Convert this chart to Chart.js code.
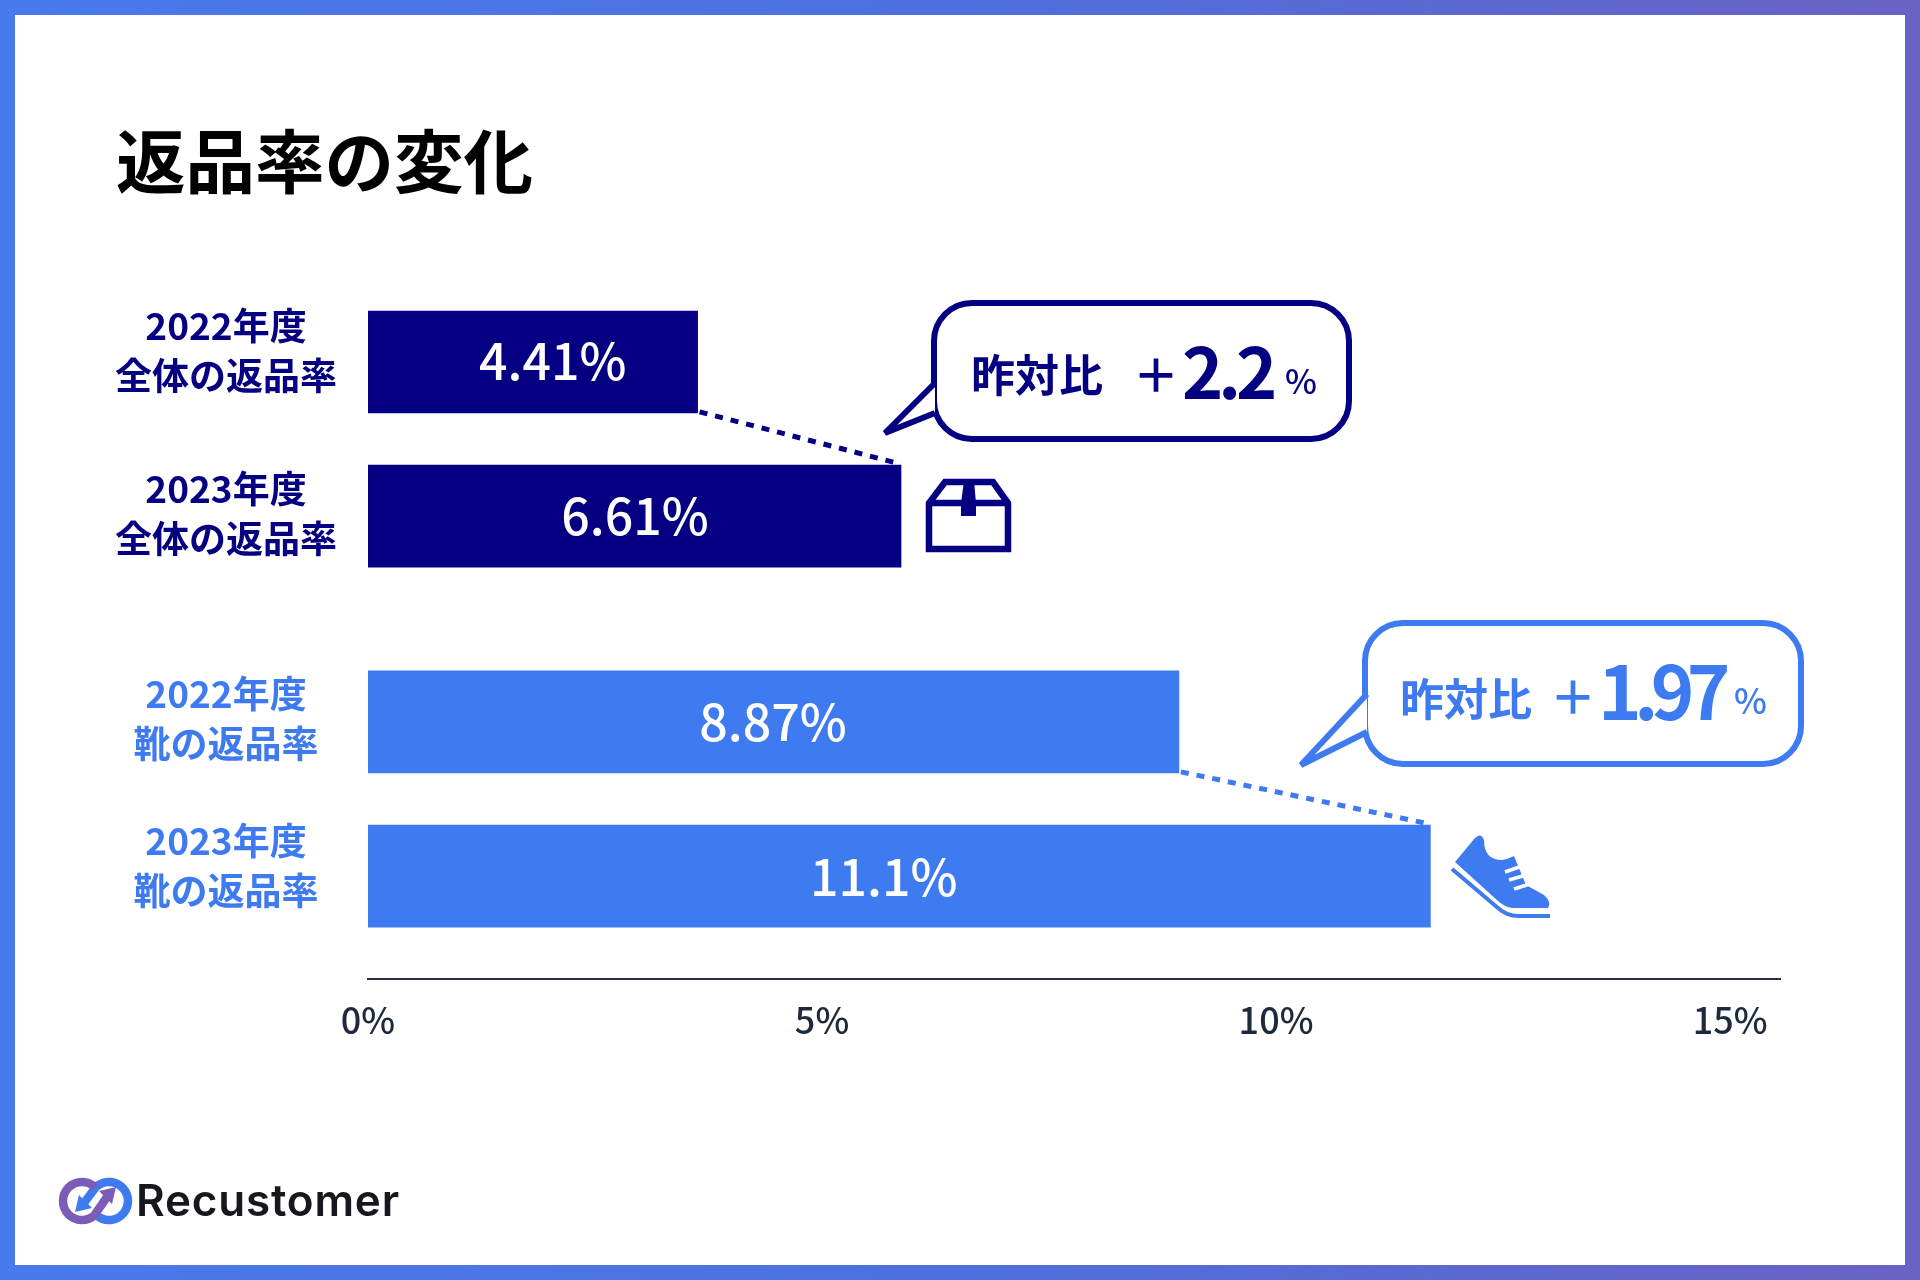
<!DOCTYPE html>
<html lang="ja">
<head>
<meta charset="utf-8">
<title>返品率の変化</title>
<script src="https://cdn.jsdelivr.net/npm/chart.js@4"></script>
<style>
html,body{margin:0;padding:0;background:#fff}
#frame{position:absolute;left:0;top:0;width:1920px;height:1280px;background:linear-gradient(90deg,#487aec 0%,#4e70de 50%,#6a63c4 100%)}
#inner{position:absolute;left:15px;top:15px;width:1890px;height:1250px;background:#fff}
canvas{position:absolute;left:0;top:0}
</style>
</head>
<body>
<div id="frame"><div id="inner"></div></div>
<canvas id="c" width="1920" height="1280"></canvas>
<script>
const titleText = '返品率の変化';
const NAVY = '#050082';
const BLUE = '#3f7bf0';
const FONT = '"Noto Sans CJK JP","Noto Sans JP",sans-serif';

// Rows of the category axis; empty rows give the gaps between bars.
const rowLabels = ['', ['2022年度','全体の返品率'], '', '', ['2023年度','全体の返品率'], '', '', '',
                   ['2022年度','靴の返品率'], '', '', ['2023年度','靴の返品率'], '', ''];
// Bar lengths as read against the x axis of the picture.
const barLengths = [null, 3.63, null, null, 5.87, null, null, null, 8.93, null, null, 11.7, null, null];
const rowColors = [NAVY, NAVY, NAVY, NAVY, NAVY, NAVY, NAVY, BLUE, BLUE, BLUE, BLUE, BLUE, BLUE, BLUE];
// Printed labels and their centre on the x axis.
const printedValues = [null, '4.41%', null, null, '6.61%', null, null, null, '8.87%', null, null, '11.1%', null, null];
const printedCentres = [null, 2.035, null, null, 2.94, null, null, null, 4.46, null, null, 5.68, null, null];
// Vertical shift of each row label relative to its bar.
const labelShift = [0, -11, 0, 0, -2.5, 0, 0, 0, -3, 0, 0, -10, 0, 0];
const xTickValues = [0, 5, 10, 15];
const callouts = [
  {color: NAVY, from: 1, to: 4, box: [934, 303, 415, 136], tail: [[935,383],[885,433],[935,413]],
   parts: [{t:'昨対比',x:971,y:375,s:44,w:700,ls:0},{t:'＋',x:1133,y:375,s:46,w:700,ls:0},
           {t:'2.2',x:1182,y:372,s:70,w:700,ls:-5},{t:'%',x:1285,y:381,s:34,w:500,ls:0}]},
  {color: BLUE, from: 8, to: 11, box: [1365, 623, 436, 141], tail: [[1367,694],[1301,765],[1367,732]],
   parts: [{t:'昨対比',x:1400,y:699,s:44,w:700,ls:0},{t:'＋',x:1550,y:697,s:46,w:700,ls:0},
           {t:'1.97',x:1598,y:692,s:74,w:700,ls:-7.5},{t:'%',x:1734,y:701,s:35,w:500,ls:0}]}
];

function drawBox(ctx){
  ctx.save();
  ctx.strokeStyle = NAVY; ctx.fillStyle = NAVY; ctx.lineWidth = 6.5; ctx.lineJoin = 'miter';
  ctx.beginPath();
  ctx.moveTo(945,482); ctx.lineTo(993,482); ctx.lineTo(1008,503); ctx.lineTo(1008,549);
  ctx.lineTo(929,549); ctx.lineTo(929,503); ctx.closePath();
  ctx.moveTo(929,503); ctx.lineTo(1008,503);
  ctx.stroke();
  ctx.beginPath();
  ctx.moveTo(964,481); ctx.lineTo(974,481); ctx.lineTo(976,503); ctx.lineTo(976,516);
  ctx.lineTo(961,516); ctx.lineTo(961,503); ctx.closePath();
  ctx.fill();
  ctx.restore();
}
function drawShoe(ctx){
  ctx.save();
  ctx.fillStyle = BLUE; ctx.strokeStyle = BLUE;
  ctx.beginPath();
  ctx.moveTo(1455,862);
  ctx.lineTo(1475,838);
  ctx.quadraticCurveTo(1481,832,1484,840);
  ctx.quadraticCurveTo(1484,860,1502,860);
  ctx.quadraticCurveTo(1508,859,1514,856);
  ctx.lineTo(1526,885);
  ctx.lineTo(1544,895);
  ctx.quadraticCurveTo(1552,902,1548,908);
  ctx.lineTo(1512,908);
  ctx.quadraticCurveTo(1505,907,1498,901);
  ctx.closePath();
  ctx.fill();
  ctx.lineWidth = 4; ctx.lineCap = 'butt';
  ctx.beginPath();
  ctx.moveTo(1452,869); ctx.lineTo(1498,908);
  ctx.quadraticCurveTo(1507,916,1518,916); ctx.lineTo(1550,916);
  ctx.stroke();
  ctx.strokeStyle = '#fff'; ctx.lineWidth = 3.5;
  [[1505,872,1522,866],[1509,880,1526,875],[1514,889,1530,884]].forEach(l=>{
    ctx.beginPath(); ctx.moveTo(l[0],l[1]); ctx.lineTo(l[2],l[3]); ctx.stroke();
  });
  ctx.restore();
}
function drawLogo(ctx){
  ctx.save();
  const purple = '#7b5cb8', blue = '#3f7bf0';
  ctx.lineWidth = 8.5; ctx.lineCap = 'butt';
  // blue loop
  ctx.strokeStyle = blue;
  ctx.beginPath();
  ctx.arc(109,1201,19,Math.PI*0.72,Math.PI*1.25,true);
  ctx.lineTo(84,1203);
  ctx.stroke();
  ctx.fillStyle = blue;
  ctx.beginPath(); ctx.moveTo(75,1212); ctx.lineTo(79,1195); ctx.lineTo(92,1208); ctx.closePath(); ctx.fill();
  // purple loop
  ctx.strokeStyle = purple;
  ctx.beginPath();
  ctx.arc(82,1201,19,-Math.PI*0.25,Math.PI*0.28,true);
  ctx.lineTo(107,1197);
  ctx.stroke();
  ctx.fillStyle = purple;
  ctx.beginPath(); ctx.moveTo(116,1187); ctx.lineTo(112,1204); ctx.lineTo(99,1191); ctx.closePath(); ctx.fill();
  ctx.fillStyle = '#16181d';
  ctx.font = '600 44px Inter, sans-serif';
  ctx.letterSpacing = '0.8px';
  ctx.textAlign = 'left'; ctx.textBaseline = 'alphabetic';
  ctx.fillText('Recustomer',136,1216);
  ctx.restore();
}

const overlay = {
  id: 'overlay',
  beforeDraw(chart){
    // nudge the row labels to where the picture has them
    const y = chart.scales.y, items = y.getLabelItems();
    let n = 0;
    y.ticks.forEach((t,i)=>{
      const item = items[n++];
      if (item && labelShift[i]) item.options.translation = [item.options.translation[0], item.options.translation[1] + labelShift[i]];
    });
  },
  afterDatasetsDraw(chart){
    const ctx = chart.ctx, bars = chart.getDatasetMeta(0).data, x = chart.scales.x;
    // printed labels on the bars
    ctx.save();
    ctx.fillStyle = '#fff';
    ctx.font = '500 50px ' + FONT;
    ctx.textAlign = 'center'; ctx.textBaseline = 'middle';
    printedValues.forEach((t,i)=>{
      if (t) ctx.fillText(t, x.getPixelForValue(printedCentres[i]), bars[i].y + (i > 4 ? 0.5 : -0.5));
    });
    ctx.restore();
    // dotted connectors and callouts
    callouts.forEach(c=>{
      const a = bars[c.from], b = bars[c.to];
      ctx.save();
      ctx.strokeStyle = c.color; ctx.lineWidth = 5; ctx.setLineDash([8,8]);
      ctx.beginPath();
      ctx.moveTo(a.x + 2, a.y + a.height/2 - 1);
      ctx.lineTo(b.x, b.y - b.height/2 - 1);
      ctx.stroke();
      ctx.setLineDash([]);
      const [bx,by,bw,bh] = c.box;
      ctx.lineWidth = 6; ctx.lineJoin = 'bevel'; ctx.fillStyle = '#fff';
      ctx.beginPath();
      ctx.roundRect(bx,by,bw,bh,38);
      ctx.fill(); ctx.stroke();
      ctx.beginPath();
      ctx.moveTo(c.tail[0][0],c.tail[0][1]);
      ctx.lineTo(c.tail[1][0],c.tail[1][1]);
      ctx.lineTo(c.tail[2][0],c.tail[2][1]);
      ctx.closePath(); ctx.fill();
      ctx.beginPath();
      ctx.moveTo(c.tail[0][0],c.tail[0][1]);
      ctx.lineTo(c.tail[1][0],c.tail[1][1]);
      ctx.lineTo(c.tail[2][0],c.tail[2][1]);
      ctx.stroke();
      ctx.fillStyle = c.color; ctx.textAlign = 'left'; ctx.textBaseline = 'middle';
      c.parts.forEach(p=>{
        ctx.font = p.w + ' ' + p.s + 'px ' + FONT;
        ctx.letterSpacing = p.ls + 'px';
        ctx.fillText(p.t,p.x,p.y);
      });
      ctx.letterSpacing = '0px';
      ctx.restore();
    });
    drawBox(ctx); drawShoe(ctx); drawLogo(ctx);
  }
};

new Chart(document.getElementById('c'), {
  type: 'bar',
  data: {
    labels: rowLabels,
    datasets: [{
      data: barLengths,
      backgroundColor: rowColors,
      barThickness: 102,
      borderWidth: 0
    }]
  },
  plugins: [overlay],
  options: {
    indexAxis: 'y',
    responsive: false,
    animation: false,
    layout: {padding: {left: 116, right: 140, top: 0, bottom: 0}},
    plugins: {
      legend: {display: false},
      tooltip: {enabled: false},
      title: {
        display: true, text: titleText, align: 'start', color: '#000',
        font: {family: FONT, size: 69.5, weight: '700', lineHeight: 1.2},
        padding: {top: 120, bottom: 107}
      }
    },
    scales: {
      x: {
        type: 'linear', min: 0, max: 15.55,
        afterFit(s){ s.height = 301; },
        afterBuildTicks(s){ s.ticks = xTickValues.map(v=>({value:v})); },
        grid: {display: false, drawTicks: false},
        border: {display: true, color: '#2a2c45', width: 2},
        ticks: {
          color: '#1c2a3c', padding: 20, maxRotation: 0, autoSkip: false,
          font: {family: FONT, size: 36, weight: '500'},
          callback: v => v + '%'
        }
      },
      y: {
        type: 'category', offset: false,
        afterFit(s){ s.width = 252; },
        grid: {display: false, drawTicks: false},
        border: {display: false},
        ticks: {
          autoSkip: false, crossAlign: 'center', padding: 31,
          color: c => rowColors[c.index],
          font: {family: FONT, size: 37, weight: '700', lineHeight: 1.35}
        }
      }
    }
  }
});
</script>
</body>
</html>
